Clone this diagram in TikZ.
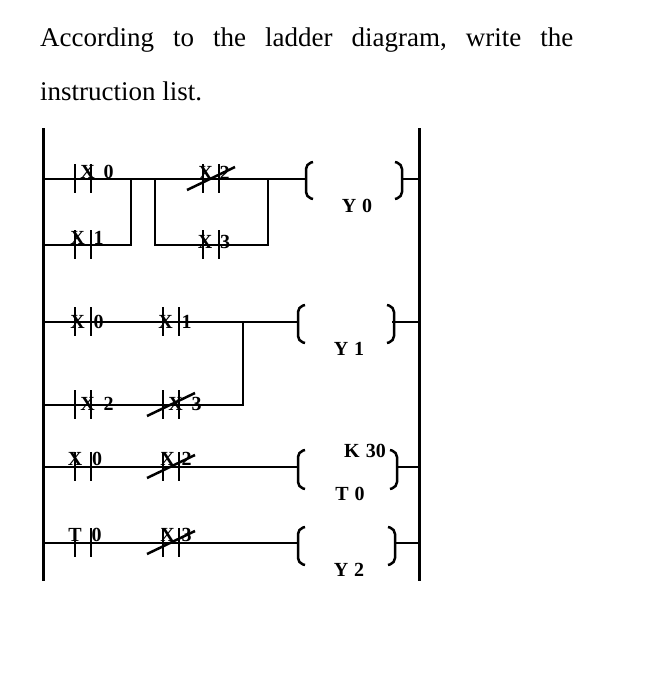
\documentclass[tikz,border=0pt]{standalone}
\usepackage{fontspec}
\setmainfont{Liberation Serif}
\begin{document}
\begin{tikzpicture}[x=1pt,y=-1pt,
  wire/.style={line width=2.5pt},
  rail/.style={line width=3pt},
  lbl/.style={font=\fontsize{20}{20}\selectfont\bfseries, inner sep=0pt},
  ttl/.style={font=\fontsize{27}{27}\selectfont, inner sep=0pt, anchor=base west}]
\useasboundingbox (0,0) rectangle (652,674);
\node[ttl] (t1) at (40,47) {According\hspace{19pt}to\hspace{19pt}the\hspace{19pt}ladder\hspace{19pt}diagram,\hspace{19pt}write\hspace{19pt}the};
\node[ttl] (t2) at (40,101) {instruction list.};
% rails
\coordinate (LT) at (43,128); \coordinate (LB) at (43,581);
\coordinate (RT) at (419,128); \coordinate (RB) at (419,581);
\draw[rail] (LT) -- (LB); \draw[rail] (RT) -- (RB);
% contact macro
\newcommand{\ctc}[3]{\draw[wire] (#1-8,#2-15) -- (#1-8,#2+14); \draw[wire] (#1+8,#2-15) -- (#1+8,#2+14);
  \ifx#3n\draw[wire] (#1-24,#2+11) -- (#1+24,#2-12);\fi}
\newcommand{\coilL}[3]{\draw[wire,rounded corners=5pt] (#1+7,#2) -- (#1,#2+2) -- (#1,#3-2) -- (#1+7,#3);}
\newcommand{\coilR}[3]{\draw[wire,rounded corners=5pt] (#1-7,#2) -- (#1,#2+2) -- (#1,#3-2) -- (#1-7,#3);}
% rung 1
\draw[wire] (43,179) -- (305,179); \draw[wire] (131,179) -- (131,245) -- (43,245);
\draw[wire] (155,179) -- (155,245) -- (268,245) -- (268,179);
\draw[wire] (401,179) -- (419,179);
\ctc{83}{179}{o}\ctc{83}{245}{o}\ctc{211}{179}{n}\ctc{211}{245}{o}
\coilL{306}{162}{199}\coilR{402}{162}{199}
\node[lbl] (a1) at (97,172) {X\hspace{9pt}0};
\node[lbl] (a2) at (87,238) {X\hspace{9pt}1};
\node[lbl] (a3) at (214,173) {X\hspace{7pt}2};
\node[lbl] (a4) at (214,242) {X\hspace{8pt}3};
\node[lbl] (c1) at (357,206) {Y\hspace{6pt}0};
% rung 2/3
\draw[wire] (43,322) -- (298,322); \draw[wire] (243,322) -- (243,405) -- (43,405);
\draw[wire] (392,322) -- (419,322);
\ctc{83}{322}{o}\ctc{171}{322}{o}\ctc{83}{405}{o}\ctc{171}{405}{n}
\coilL{298}{305}{343}\coilR{394}{305}{343}
\node[lbl] (b1) at (87,322) {X\hspace{9pt}0};
\node[lbl] (b2) at (175,322) {X\hspace{9pt}1};
\node[lbl] (b3) at (97,404) {X\hspace{9pt}2};
\node[lbl] (b4) at (185,404) {X\hspace{9pt}3};
\node[lbl] (c2) at (349,349) {Y\hspace{6pt}1};
% rung 4
\draw[wire] (43,467) -- (298,467); \draw[wire] (398,467) -- (419,467);
\ctc{83}{467}{o}\ctc{171}{467}{n}
\coilL{298}{450}{489}\coilR{397}{450}{489}
\node[lbl] (d1) at (85,459) {X\hspace{10pt}0};
\node[lbl] (d2) at (176,459) {X\hspace{7pt}2};
\node[lbl] (c3) at (365,451) {K\hspace{6pt}30};
\node[lbl] (c4) at (350,494) {T\hspace{6pt}0};
% rung 5
\draw[wire] (43,543) -- (298,543); \draw[wire] (395,543) -- (419,543);
\ctc{83}{543}{o}\ctc{171}{543}{n}
\coilL{298}{527}{565}\coilR{395}{527}{565}
\node[lbl] (e1) at (85,535) {T\hspace{10pt}0};
\node[lbl] (e2) at (176,535) {X\hspace{7pt}3};
\node[lbl] (c5) at (349,570) {Y\hspace{6pt}2};
\end{tikzpicture}
\end{document}
